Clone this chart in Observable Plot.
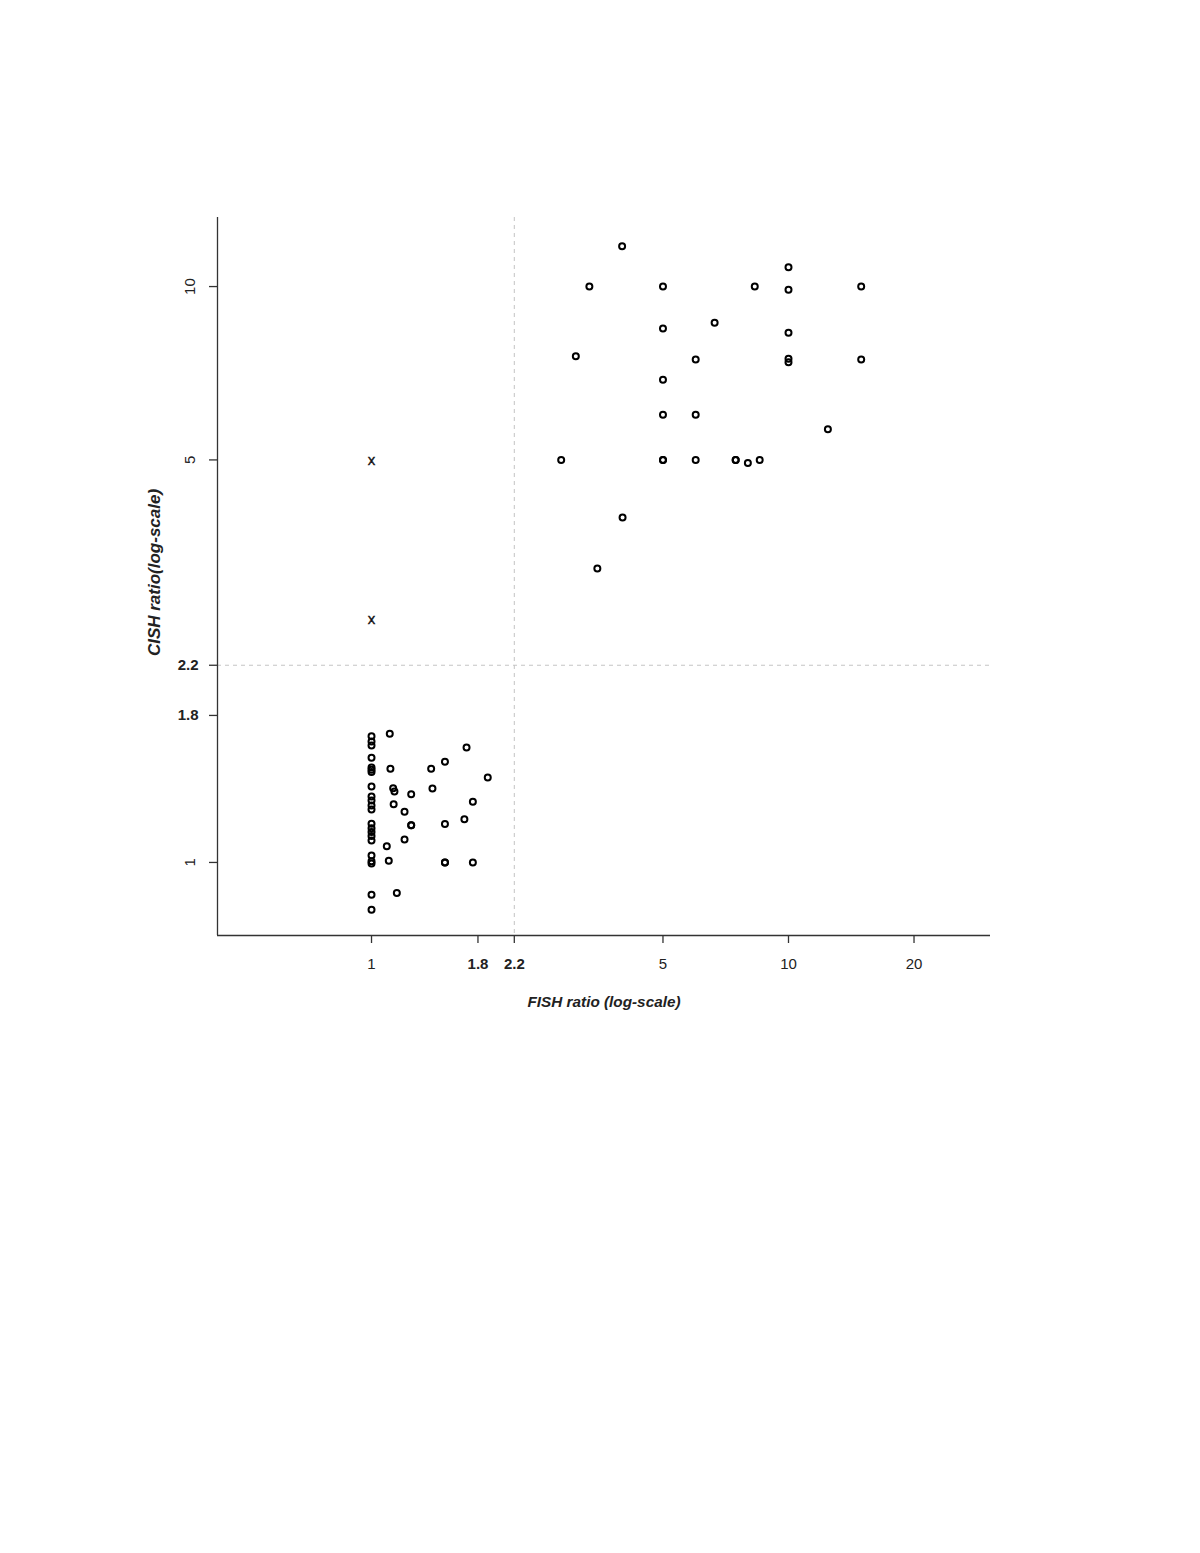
<!DOCTYPE html>
<html>
<head>
<meta charset="utf-8">
<script src="https://cdn.jsdelivr.net/npm/d3@7"></script>
<script src="https://cdn.jsdelivr.net/npm/@observablehq/plot@0.6"></script>
<style>
  html, body { margin: 0; padding: 0; background: #fff; }
  svg { display: block; }
</style>
</head>
<body>
<div id="chart"></div>
<script>
// Amplified group (circles)
const fishHigh = [3.99, 3.33, 3.09, 2.85, 4.0, 3.48, 5, 5, 5, 5, 5, 5, 5.99, 5.99, 5.99, 6.65, 7.47, 7.47, 7.99, 8.53, 8.3, 10, 10, 10, 10, 10, 12.43, 14.94, 14.94];
const cishHigh = [11.75, 10, 7.57, 5, 3.97, 3.24, 10, 8.46, 6.89, 5.99, 5, 5, 7.47, 5.99, 5, 8.65, 5, 5, 4.94, 5, 10, 10.8, 9.87, 8.31, 7.49, 7.39, 5.65, 10, 7.47];

// Non-amplified group at FISH ratio 1 (circles)
const cishAtOne = [1.657, 1.622, 1.596, 1.52, 1.462, 1.448, 1.435, 1.355, 1.302, 1.281, 1.256, 1.236, 1.167, 1.147, 1.129, 1.111, 1.092, 1.028, 1.005, 0.996, 0.879, 0.828];

// Non-amplified group, other FISH ratios (circles)
const fishLow = [1.106, 1.69, 1.5, 1.11, 1.39, 1.9, 1.127, 1.135, 1.4, 1.245, 1.75, 1.13, 1.2, 1.67, 1.245, 1.245, 1.5, 1.2, 1.088, 1.1, 1.5, 1.5, 1.75, 1.15];
const cishLow  = [1.673, 1.584, 1.496, 1.455, 1.455, 1.405, 1.346, 1.328, 1.344, 1.314, 1.275, 1.262, 1.225, 1.188, 1.16, 1.16, 1.166, 1.096, 1.067, 1.007, 1.0, 1.0, 1.0, 0.885];

// Discordant cases (x markers)
const fishCross = [1, 1];
const cishCross = [5, 2.65];

const xDomain = [0.4272, 30.51];
const yDomain = [0.7467, 13.18];
const xTicksPlain = [1, 5, 10, 20];
const xTicksBold = [1.8, 2.2];
const yTicksPlain = [1, 5, 10];
const yTicksBold = [1.8, 2.2];
const cutoff = [2.2];
const xTitle = "FISH ratio (log-scale)";
const yTitle = "CISH ratio(log-scale)";

const circles = [
  ...fishHigh.map((f, i) => ({fish: f, cish: cishHigh[i]})),
  ...cishAtOne.map(c => ({fish: 1, cish: c})),
  ...fishLow.map((f, i) => ({fish: f, cish: cishLow[i]}))
];
const crosses = fishCross.map((f, i) => ({fish: f, cish: cishCross[i]}));

const font = "'Liberation Sans', Arial, Helvetica, sans-serif";
const axisColor = "#333";

const chart = Plot.plot({
  width: 1200,
  height: 1553,
  marginLeft: 217,
  marginRight: 210,
  marginTop: 217,
  marginBottom: 618,
  style: {fontFamily: font, background: "#fff", color: "#222"},
  x: {type: "log", domain: xDomain},
  y: {type: "log", domain: yDomain},
  marks: [
    Plot.ruleX(cutoff, {stroke: "#c4c4c4", strokeDasharray: "4,4", strokeWidth: 1}),
    Plot.ruleY(cutoff, {stroke: "#c4c4c4", strokeDasharray: "4,4", strokeWidth: 1}),
    Plot.ruleX([xDomain[0]], {stroke: axisColor, strokeWidth: 1.3}),
    Plot.ruleY([yDomain[0]], {stroke: axisColor, strokeWidth: 1.3}),
    Plot.axisX(xTicksPlain, {tickSize: 8, tickPadding: 15, fontSize: 15, label: null, stroke: axisColor, strokeWidth: 1.3, tickFormat: d => `${d}`}),
    Plot.axisX(xTicksBold, {tickSize: 8, tickPadding: 15, fontSize: 15, fontWeight: "bold", label: null, stroke: axisColor, strokeWidth: 1.3, tickFormat: d => `${d}`}),
    Plot.axisY(yTicksBold, {tickSize: 8, tickPadding: 11, fontSize: 15, fontWeight: "bold", label: null, stroke: axisColor, strokeWidth: 1.3, tickFormat: d => `${d}`}),
    Plot.axisY(yTicksPlain, {tickSize: 8, tickPadding: 12, label: null, stroke: axisColor, strokeWidth: 1.3, tickFormat: () => ""}),
    Plot.text(yTicksPlain, {frameAnchor: "left", y: d => d, text: d => `${d}`, rotate: -90, dx: -27, textAnchor: "middle", lineAnchor: "middle", fontSize: 15, fill: "#222"}),
    Plot.text([xTitle], {frameAnchor: "bottom", text: d => d, dy: 67, lineAnchor: "middle", fontSize: 15.3, fontWeight: "bold", fontStyle: "italic", fill: "#222"}),
    Plot.text([yTitle], {frameAnchor: "left", text: d => d, dx: -63, dy: -4, rotate: -90, textAnchor: "middle", lineAnchor: "middle", fontSize: 17, fontWeight: "bold", fontStyle: "italic", fill: "#222"}),
    Plot.dot(circles, {x: "fish", y: "cish", r: 3, stroke: "#000", strokeWidth: 2, fill: "none"}),
    Plot.text(crosses, {x: "fish", y: "cish", text: () => "x", fontSize: 15, fill: "#111", stroke: "#111", strokeWidth: 0.4, lineAnchor: "middle"})
  ]
});
document.getElementById("chart").appendChild(chart);
</script>
</body>
</html>
